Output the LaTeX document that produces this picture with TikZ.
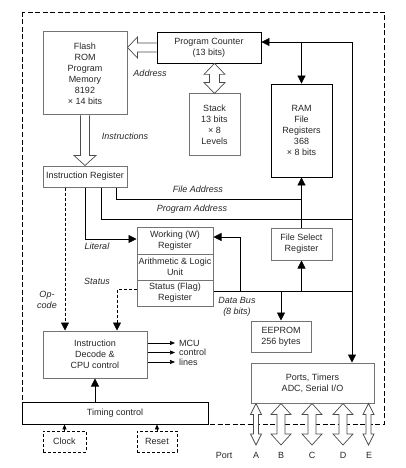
\documentclass[tikz,border=0pt]{standalone}
\usepackage{fontspec}
\setmainfont{Liberation Sans}
\usetikzlibrary{arrows.meta,calc}
\newcommand\hollowdbl[5]{%
  \filldraw[hollow] let \p1=#1, \p2=#2 in
  (\x1,\y1) -- (\x1+#4,\y1-#5) -- (\x1+#3,\y1-#5) -- (\x1+#3,\y2+#5) -- (\x1+#4,\y2+#5) -- (\x1,\y2) -- (\x1-#4,\y2+#5) -- (\x1-#3,\y2+#5) -- (\x1-#3,\y1-#5) -- (\x1-#4,\y1-#5) -- cycle;}
\newcommand\hollowdown[5]{%
  \filldraw[hollow] let \p1=#1, \p2=#2 in
  (\x1-#3,\y1) -- (\x1-#3,\y2+#5) -- (\x1-#4,\y2+#5) -- (\x1,\y2) -- (\x1+#4,\y2+#5) -- (\x1+#3,\y2+#5) -- (\x1+#3,\y1);}
\newcommand\hollowleft[5]{%
  \filldraw[hollow] let \p1=#1, \p2=#2 in
  (\x1,\y1+#3) -- (\x2+#5,\y1+#3) -- (\x2+#5,\y1+#4) -- (\x2,\y1) -- (\x2+#5,\y1-#4) -- (\x2+#5,\y1-#3) -- (\x1,\y1-#3);}
\begin{document}
\begin{tikzpicture}[x=1pt,y=-1pt,
  font=\fontsize{9}{11}\selectfont,
  box/.style={draw=black, line width=0.8pt, inner sep=0pt, align=center, fill=white, text=black!85},
  gbox/.style={box, draw=black!55, line width=1pt},
  dbox/.style={box, dash pattern=on 3pt off 2pt, line width=0.7pt},
  conn/.style={line width=0.7pt},
  tip/.style={-{Triangle[length=8pt,width=8pt]}},
  smalltip/.style={-{Triangle[length=5pt,width=4pt]}},
  dsh/.style={dash pattern=on 3pt off 2pt},
  hollow/.style={draw=black!70, fill=white, line width=0.7pt, line join=miter},
  lbl/.style={font=\fontsize{9}{11}\selectfont\itshape, inner sep=0pt, align=center, text=black!85},
  txt/.style={inner sep=0pt, text=black!85}]
\useasboundingbox (0,0) rectangle (405,468);
% outer dashed frame
\draw[dash pattern=on 5pt off 2.5pt, line width=0.7pt] (22,12) rectangle (384,424);

% boxes
\node[gbox, minimum width=84pt, minimum height=83pt] (flash) at (85,73.5) {Flash\\ROM\\Program\\Memory\\8192\\× 14 bits};
\node[box, minimum width=104pt, minimum height=31pt] (pc) at (209,47.5) {Program Counter\\(13 bits)};
\node[gbox, minimum width=51pt, minimum height=61pt] (stack) at (214.5,124.5) {Stack\\13 bits\\× 8\\Levels};
\node[box, minimum width=61pt, minimum height=93pt] (ram) at (301.5,130.5) {RAM\\File\\Registers\\368\\× 8 bits};
\node[gbox, minimum width=84pt, minimum height=21pt] (ir) at (85,176.5) {Instruction Register};
\node[gbox, minimum width=76pt, minimum height=27pt] (w) at (175,240.5) {Working (W)\\Register};
\node[gbox, minimum width=76pt, minimum height=26pt] (alu) at (175,267) {Arithmetic \& Logic\\Unit};
\node[gbox, minimum width=76pt, minimum height=26pt] (status) at (175,293) {Status (Flag)\\Register};
\node[gbox, minimum width=61pt, minimum height=32pt] (fsr) at (301.5,244) {File Select\\Register};
\node[gbox, minimum width=60pt, minimum height=31pt] (eeprom) at (281,336.5) {EEPROM\\256 bytes};
\node[gbox, minimum width=123pt, minimum height=40pt] (ports) at (312.5,383) {Ports, Timers\\ADC, Serial I/O};
\node[gbox, minimum width=104pt, minimum height=47pt] (decode) at (95,354.5) {Instruction\\Decode \&\\CPU control};
\node[box, minimum width=186pt, minimum height=22pt] (timing) at (115,413) {Timing control};
\node[dbox, minimum width=43pt, minimum height=21pt] (clock) at (64.5,441.5) {Clock};
\node[dbox, minimum width=40pt, minimum height=21pt] (reset) at (157,441.5) {Reset};

% helper coordinates
\coordinate (bustop) at (352,42);
\coordinate (pay) at (0,219);
\coordinate (fay) at (0,199);
\coordinate (ly) at (0,239);
\coordinate (wy) at (0,237);
\coordinate (dby) at (0,291);
\coordinate (sty) at (0,289);
\coordinate (pax) at (101,0);
\coordinate (fax) at (116,0);
\coordinate (opx) at (65,0);
\coordinate (statx) at (117,0);
\coordinate (wbx) at (240,0);
\coordinate (m1) at (175,343);
\coordinate (m2) at (175,352.5);
\coordinate (m3) at (175,362);
\coordinate (pA) at (256,445);
\coordinate (pB) at (281,445);
\coordinate (pC) at (312,445);
\coordinate (pD) at (343,445);
\coordinate (pE) at (368.5,445);

% hollow bus arrows
\hollowleft{(pc.west)}{(flash.east)}{4.5pt}{10.5pt}{10pt}
\hollowdown{(flash.south)}{(ir.north)}{4.5pt}{11pt}{10pt}
\hollowdbl{(stack.north |- pc.south)}{(stack.north)}{5pt}{10.5pt}{11pt}
\hollowdbl{(pA |- ports.south)}{(pA)}{2.5pt}{5.5pt}{11pt}
\hollowdbl{(pB |- ports.south)}{(pB)}{4pt}{10pt}{11pt}
\hollowdbl{(pC |- ports.south)}{(pC)}{4pt}{10pt}{11pt}
\hollowdbl{(pD |- ports.south)}{(pD)}{4pt}{10pt}{11pt}
\hollowdbl{(pE |- ports.south)}{(pE)}{2.5pt}{5.5pt}{11pt}

% right bus
\draw[conn,tip] (bustop) -- (pc.east |- bustop);
\draw[conn,tip] (bustop -| ram.north) -- (ram.north);
\draw[conn,tip] (bustop) -- (bustop |- ports.north);

% from instruction register
\draw[conn] (pax |- ir.south) |- (bustop |- pay);
\draw[conn] (fax |- ir.south) |- (ram.south |- fay);
\draw[conn,tip] (ir.south) |- (w.west |- ly);
\draw[conn,tip] (fsr.north) -- (ram.south);

% data bus
\draw[conn] (status.east |- dby) -- (bustop |- dby);
\draw[conn,tip] (wbx |- dby) |- (w.east |- wy);
\draw[conn,tip] (fsr.south |- dby) -- (fsr.south);
\draw[conn,tip] (eeprom.north |- dby) -- (eeprom.north);

% control
\draw[conn,dsh,tip] (opx |- ir.south) -- (opx |- decode.north);
\draw[conn,dsh,tip] (status.west |- sty) -| (statx |- decode.north);
\draw[conn,tip] (decode.south |- timing.north) -- (decode.south);
\draw[conn,smalltip] (clock.north) -- (clock.north |- timing.south);
\draw[conn,smalltip] (reset.north) -- (reset.north |- timing.south);
\draw[conn,smalltip] (decode.east |- m1) -- (m1);
\draw[conn,smalltip] (decode.east |- m2) -- (m2);
\draw[conn,smalltip] (decode.east |- m3) -- (m3);

% labels
\node[lbl] (laddr) at (150,73) {Address};
\node[lbl] (linstr) at (125,136) {Instructions};
\node[lbl] (lfile) at (198,189) {File Address};
\node[lbl] (lprog) at (192,209) {Program Address};
\node[lbl] (llit) at (97,246) {Literal};
\node[lbl] (lstat) at (97,281) {Status};
\node[lbl] (lop) at (47,300) {Op-\\code};
\node[lbl] (ldb) at (237,307) {Data Bus\\(8 bits)};
\node[txt, anchor=west] (lm1) at (179,343) {MCU};
\node[txt, anchor=west] (lm2) at (179,352.5) {control};
\node[txt, anchor=west] (lm3) at (179,362) {lines};
\node[txt] (lport) at (224,455) {Port};
\node[txt] (lA) at (256,455) {A};
\node[txt] (lB) at (281,455) {B};
\node[txt] (lC) at (312,455) {C};
\node[txt] (lD) at (343,455) {D};
\node[txt] (lE) at (369,455) {E};
\end{tikzpicture}
\end{document}
